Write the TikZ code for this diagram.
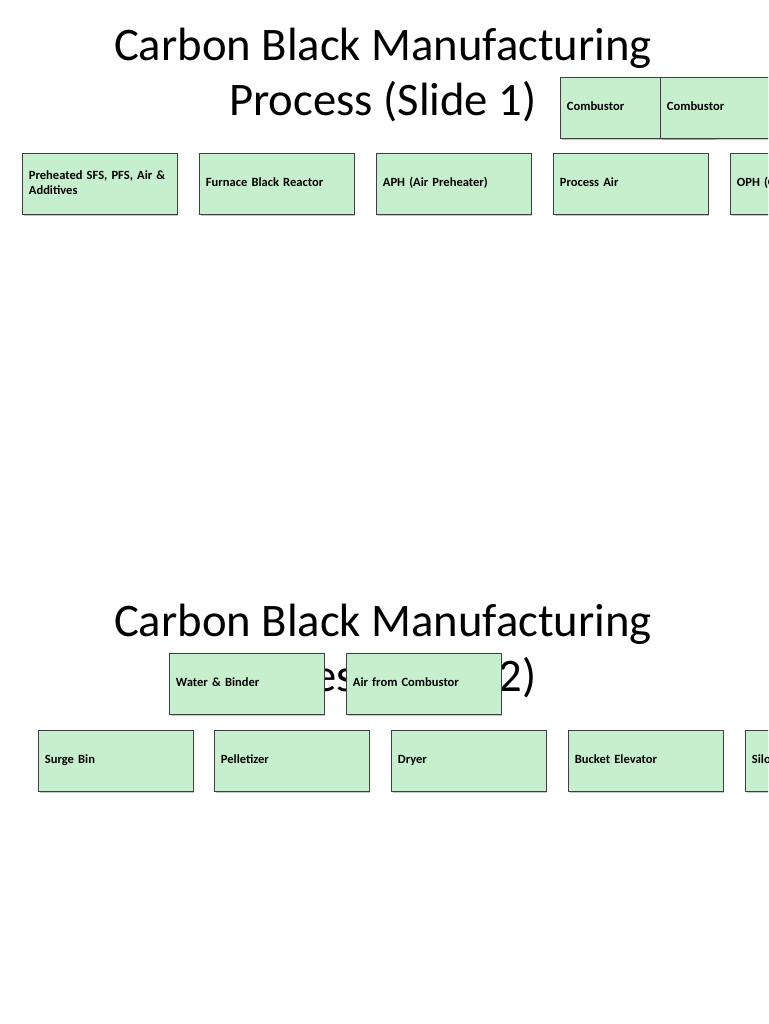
\documentclass[tikz,border=0pt]{standalone}
\usepackage{fontspec}
\setmainfont{Carlito}
\usetikzlibrary{shadows}
\definecolor{boxfill}{HTML}{C6EFCE}
\tikzset{
  stage/.style={draw=black!75, fill=boxfill, anchor=north west, minimum width=115.5pt,
    minimum height=45.75pt, text width=106pt, align=left, inner xsep=5pt,
    font=\fontsize{9.4}{11.5}\selectfont\bfseries,
    execute at begin node=\strut, execute at end node=\strut,
    drop shadow={shadow xshift=1pt, shadow yshift=-1.2pt, opacity=0.45}},
  title/.style={font=\fontsize{35}{41}\selectfont, align=center}
}
\begin{document}
\begin{tikzpicture}[x=0.75pt, y=-0.75pt]
  \useasboundingbox (0,0) rectangle (768,1024);
  \clip (0,0) rectangle (768,1024);
  % slide 1
  \node[title] (t1) at (383,75) {Carbon Black Manufacturing\\Process (Slide 1)};
  \node[stage] (comb1) at (560,77) {Combustor};
  \node[stage] (comb2) at (660,77) {Combustor};
  \node[stage] (feed) at (22,153) {Preheated SFS, PFS, Air \& Additives};
  \node[stage] (reactor) at (199,153) {Furnace Black Reactor};
  \node[stage] (aph) at (376,153) {APH (Air Preheater)};
  \node[stage] (air) at (553,153) {Process Air};
  \node[stage] (oph) at (730,153) {OPH (Oil Preheater)};
  % slide 2
  \node[title] (t2) at (383,651) {Carbon Black Manufacturing\\Process (Slide 2)};
  \node[stage] (water) at (169,653) {Water \& Binder};
  \node[stage] (hotair) at (346,653) {Air from Combustor};
  \node[stage] (surge) at (38,730) {Surge Bin};
  \node[stage] (pellet) at (214,730) {Pelletizer};
  \node[stage] (dryer) at (391,730) {Dryer};
  \node[stage] (elev) at (568,730) {Bucket Elevator};
  \node[stage] (silo) at (745,730) {Silo};
\end{tikzpicture}
\end{document}
